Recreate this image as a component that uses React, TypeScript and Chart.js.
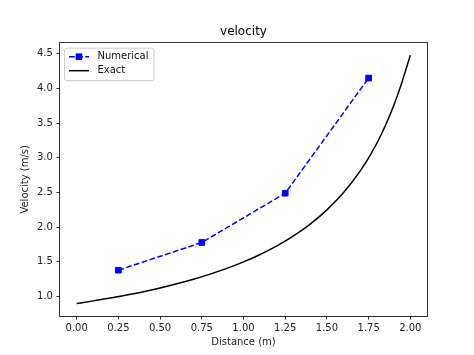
import React, { useEffect, useRef } from 'react';
import { Chart, registerables } from 'chart.js';

Chart.register(...registerables);

const titleText = 'velocity';
const xAxisLabel = 'Distance (m)';
const yAxisLabel = 'Velocity (m/s)';
const numericalLabel = 'Numerical';
const exactLabel = 'Exact';

const distNumerical = [0.25, 0.75, 1.25, 1.75];
const velNumerical = [1.38, 1.78, 2.49, 4.15];

const distExact = [0, 0.1, 0.2, 0.3, 0.4, 0.5, 0.6, 0.7, 0.8, 0.9, 1.0, 1.1, 1.2, 1.3, 1.4, 1.5, 1.6, 1.7, 1.75, 1.8, 1.85, 1.9, 1.95, 2.0];
const velExact = [0.9, 0.938, 0.978, 1.023, 1.071, 1.125, 1.184, 1.25, 1.324, 1.406, 1.5, 1.607, 1.731, 1.875, 2.045, 2.25, 2.5, 2.813, 3.0, 3.214, 3.462, 3.75, 4.091, 4.48];

const xTickValues = [0, 0.25, 0.5, 0.75, 1.0, 1.25, 1.5, 1.75, 2.0];
const yTickValues = [1.0, 1.5, 2.0, 2.5, 3.0, 3.5, 4.0, 4.5];
const xLimits = [-0.1, 2.1];
const yLimits = [0.72, 4.66];

const FONT = "'DejaVu Sans', sans-serif";

const framePlugin = {
  id: 'mplFrame',
  afterDraw(chart: any) {
    const { ctx, chartArea } = chart;
    const { left, top, right, bottom } = chartArea;
    ctx.save();
    ctx.strokeStyle = '#333';
    ctx.lineWidth = 1;
    ctx.strokeRect(Math.round(left) - 0.5, Math.round(top) - 0.5, Math.round(right - left) + 1, Math.round(bottom - top) + 1);

    const fx = left + 4.5;
    const fy = top + 5.5;
    const fw = 89.5;
    const fh = 32.5;
    const r = 2.5;
    ctx.beginPath();
    ctx.moveTo(fx + r, fy);
    ctx.lineTo(fx + fw - r, fy);
    ctx.quadraticCurveTo(fx + fw, fy, fx + fw, fy + r);
    ctx.lineTo(fx + fw, fy + fh - r);
    ctx.quadraticCurveTo(fx + fw, fy + fh, fx + fw - r, fy + fh);
    ctx.lineTo(fx + r, fy + fh);
    ctx.quadraticCurveTo(fx, fy + fh, fx, fy + fh - r);
    ctx.lineTo(fx, fy + r);
    ctx.quadraticCurveTo(fx, fy, fx + r, fy);
    ctx.closePath();
    ctx.fillStyle = 'rgba(255,255,255,0.8)';
    ctx.fill();
    ctx.strokeStyle = '#cccccc';
    ctx.lineWidth = 1;
    ctx.stroke();

    const datasets = chart.data.datasets;
    datasets.forEach((ds: any, i: number) => {
      const cy = top + 14 + i * 14;
      const x0 = left + 9;
      const x1 = left + 29;
      ctx.save();
      ctx.strokeStyle = ds.borderColor;
      ctx.lineWidth = ds.borderWidth;
      ctx.setLineDash(ds.borderDash || []);
      ctx.beginPath();
      ctx.moveTo(x0, cy);
      ctx.lineTo(x1, cy);
      ctx.stroke();
      ctx.restore();
      if (ds.pointRadius > 0) {
        const s = 6.6;
        ctx.fillStyle = ds.pointBackgroundColor;
        ctx.fillRect((x0 + x1) / 2 - s / 2, cy - s / 2, s, s);
      }
      ctx.fillStyle = '#111';
      ctx.font = `10px ${FONT}`;
      ctx.textBaseline = 'middle';
      ctx.textAlign = 'left';
      ctx.fillText(ds.label, left + 37.5, cy);
    });
    ctx.restore();
  },
};

export default function App() {
  const ref = useRef<HTMLCanvasElement | null>(null);

  useEffect(() => {
    if (!ref.current) return;
    const numericalData = distNumerical.map((x, i) => ({ x, y: velNumerical[i] }));
    const exactData = distExact.map((x, i) => ({ x, y: velExact[i] }));

    const chart = new Chart(ref.current, {
      type: 'line',
      data: {
        datasets: [
          {
            label: numericalLabel,
            data: numericalData,
            borderColor: '#0000ff',
            backgroundColor: '#0000ff',
            borderWidth: 1.5,
            borderDash: [5.7, 2.5],
            pointStyle: 'rect',
            pointRadius: 4,
            pointBorderWidth: 1,
            pointBackgroundColor: '#0000ff',
            pointBorderColor: '#0000ff',
            fill: false,
            tension: 0,
          },
          {
            label: exactLabel,
            data: exactData,
            borderColor: '#000000',
            backgroundColor: '#000000',
            borderWidth: 1.5,
            pointRadius: 0,
            fill: false,
            cubicInterpolationMode: 'monotone',
          },
        ],
      },
      options: {
        responsive: false,
        animation: false,
        devicePixelRatio: 1,
        layout: { padding: { left: 0, right: 47, top: 0, bottom: 0 } },
        plugins: {
          legend: { display: false },
          tooltip: { enabled: false },
          title: {
            display: true,
            text: titleText,
            fullSize: false,
            color: '#000',
            font: { family: FONT, size: 12, weight: 'normal' },
            padding: { top: 24.8, bottom: 3.5 },
          },
        },
        scales: {
          x: {
            type: 'linear',
            min: xLimits[0],
            max: xLimits[1],
            afterBuildTicks: (scale: any) => {
              scale.ticks = xTickValues.map((v) => ({ value: v }));
            },
            afterFit: (scale: any) => {
              scale.height = 39;
            },
            border: { display: false },
            grid: { drawOnChartArea: false, drawTicks: true, tickLength: 3.6, color: '#333', lineWidth: 1 },
            ticks: {
              padding: 3.2,
              color: '#222',
              font: { family: FONT, size: 10 },
              maxRotation: 0,
              autoSkip: false,
              callback: (v: any) => Number(v).toFixed(2),
            },
            title: {
              display: true,
              text: xAxisLabel,
              color: '#222',
              font: { family: FONT, size: 10 },
              padding: { top: 0, bottom: 7 },
            },
          },
          y: {
            type: 'linear',
            min: yLimits[0],
            max: yLimits[1],
            afterBuildTicks: (scale: any) => {
              scale.ticks = yTickValues.map((v) => ({ value: v }));
            },
            afterFit: (scale: any) => {
              scale.width = 60;
            },
            border: { display: false },
            grid: { drawOnChartArea: false, drawTicks: true, tickLength: 3.6, color: '#333', lineWidth: 1 },
            ticks: {
              padding: 3.6,
              color: '#222',
              font: { family: FONT, size: 10 },
              autoSkip: false,
              callback: (v: any) => Number(v).toFixed(1),
            },
            title: {
              display: true,
              text: yAxisLabel,
              color: '#222',
              font: { family: FONT, size: 10 },
              padding: { top: 19, bottom: 0 },
            },
          },
        },
      },
      plugins: [framePlugin],
    } as any);

    return () => chart.destroy();
  }, []);

  return (
    <div style={{ position: 'absolute', left: 0, top: 0, width: 474, height: 355, background: '#fff' }}>
      <canvas ref={ref} width={474} height={355} />
    </div>
  );
}
